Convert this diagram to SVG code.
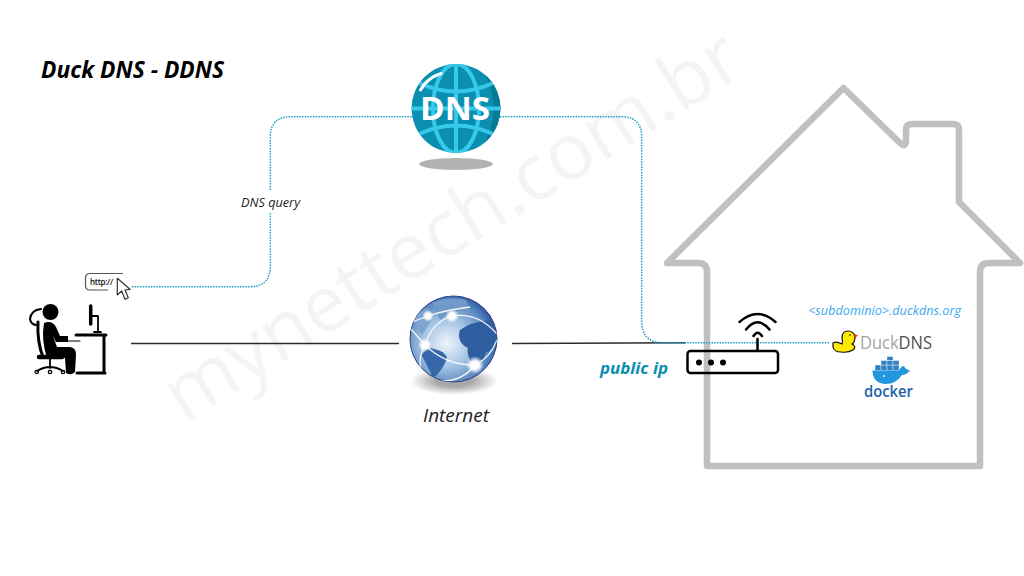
<svg xmlns="http://www.w3.org/2000/svg" width="1024" height="576" viewBox="0 0 1024 576">
<style>
text{font-family:"Open Sans","Liberation Sans",sans-serif}
.i{font-style:italic}
.wire{fill:none;stroke:#2b2b2b;stroke-width:1.6}
.dot{fill:none;stroke:#1fa3c6;stroke-width:1.5;stroke-dasharray:1.5 1.2}
.k{fill:none;stroke:#000;stroke-linecap:round;stroke-linejoin:round}
.grid{fill:none;stroke:#36c9ec;stroke-width:4}
.box{fill:#2f83c4;stroke:#fff;stroke-width:.4}
</style>
<defs>
<radialGradient id="g" cx=".42" cy=".55" r=".62"><stop offset="0" stop-color="#eef5fb"/><stop offset=".45" stop-color="#a5c4e4"/><stop offset=".85" stop-color="#4a7cb8"/><stop offset="1" stop-color="#2b3f86"/></radialGradient>
<radialGradient id="sh"><stop offset=".4" stop-color="#a8a8a8"/><stop offset="1" stop-color="#fff"/></radialGradient>
<radialGradient id="glow"><stop offset=".45" stop-color="#fff"/><stop offset="1" stop-color="#fff" stop-opacity="0"/></radialGradient>
<clipPath id="c1"><circle cx="456" cy="108.5" r="44.5"/></clipPath>
<clipPath id="c2"><ellipse cx="453.5" cy="339" rx="43.5" ry="43"/></clipPath>
</defs>
<rect width="1024" height="576" fill="#fff"/>
<text id="watermark" x="184" y="424" transform="rotate(-32 184 424)" font-size="78" fill="#f4f4f4">mynettech.com.br</text>
<g id="house"><path d="M707 466V272Q707 263 698 263H667L843.500 88L900 143Q906 148 906 140V130Q906 124 912 124H953Q959 124 959 130V202L1020 263H989Q980 263 980 272V466Z" fill="none" stroke="#c0c0c0" stroke-width="6.500" stroke-linejoin="round"/></g>
<g id="connectors">
<path class="wire" d="M131 343.500H399"/>
<path class="wire" d="M512 343.500L686 342.700"/>
<path class="dot" d="M132 286.700H250Q270.300 286.700 270.300 266V213"/>
<path class="dot" d="M270.300 190V137Q270.300 116.700 291 116.700H412"/>
<path class="dot" d="M500 116.700H621Q641.700 116.700 641.700 137V321Q641.700 342.700 663 342.700H830"/>
</g>
<g id="title"><text class="i" x="41" y="78" font-size="23" font-weight="700" textLength="183" lengthAdjust="spacingAndGlyphs">Duck DNS - DDNS</text></g>
<g id="label-dns-query"><text class="i" x="241" y="207" font-size="12.500" fill="#222" textLength="59" lengthAdjust="spacingAndGlyphs">DNS query</text></g>
<g id="http-cursor">
<path d="M123 273.500H90Q85.500 273.500 85.500 278V285.500Q85.500 290 90 290H108" fill="none" stroke="#555" stroke-width="1.200"/>
<text x="90" y="285" font-size="8" font-weight="600" fill="#111" textLength="23">http://</text>
<path d="M117.300 278.300V295L121.700 291L125 299.300L128.300 297.700L125 290L130 289.300Z" fill="#fff" stroke="#333" stroke-width="1.200" stroke-linejoin="round"/>
</g>
<g id="user">
<circle cx="50.500" cy="312" r="8"/>
<path class="k" stroke-width="2" d="M41 309Q31 310 30 319Q31 325 37 325"/>
<path class="k" stroke-width="3" d="M38 322Q37 342 43 357"/>
<path d="M44 323Q52 320 56 327L60 336H68V342H56L53 336L57 347H70Q76 348 76 354L75 372Q71 376 66 373L65 358H47Q41 340 44 323Z"/>
<path class="k" stroke-width="4.500" d="M39 357H62"/>
<path class="k" stroke-width="1.800" d="M50 359V368M37 371Q50 363 63 371"/>
<g fill="none" stroke="#000" stroke-width="1.300"><circle cx="36.700" cy="372" r="1.700"/><circle cx="50" cy="372" r="1.700"/><circle cx="63" cy="372" r="1.700"/></g>
<path class="k" stroke-width="3" d="M76 335H106M104 335V372M77 373H105"/>
<path class="k" stroke-width="1.200" d="M68 341H80"/>
<path class="k" stroke-width="3.500" d="M90.700 306V324"/>
<path class="k" stroke-width="1.800" d="M91 316H98V331M94 332H101"/>
</g>
<g id="dns">
<ellipse cx="456" cy="164" rx="37" ry="6" fill="#b2b2b2"/>
<circle cx="456" cy="108.500" r="44.500" fill="#0b8fb1"/>
<g clip-path="url(#c1)">
<path d="M480 66A44.500 44.500 0 0 1 480 151Q507 108 480 66Z" fill="#067b98"/>
<path d="M456 64V153M411 108.500H501" class="grid" stroke-width="5"/>
<ellipse class="grid" cx="456" cy="108.500" rx="23" ry="44.500"/>
<path class="grid" d="M419 83Q456 100 493 83M419 134Q456 117 493 134"/>
</g>
<path d="M420.500 90Q427 78 441 73.500" fill="none" stroke="#fff" stroke-width="3" stroke-linecap="round"/>
<text x="420" y="119.500" font-size="32" font-weight="700" fill="#fff" textLength="70" lengthAdjust="spacingAndGlyphs">DNS</text>
</g>
<g id="internet">
<ellipse cx="454" cy="381" rx="44" ry="14" fill="url(#sh)"/>
<ellipse cx="453.500" cy="339" rx="43.500" ry="43" fill="url(#g)" stroke="#2c3f86" stroke-width="1"/>
<g clip-path="url(#c2)">
<path d="M460 330Q470 322 490 320L498 340Q492 352 486 352Q480 372 472 365Q466 352 468 348Q456 342 460 330Z" fill="#2f5f9f"/>
<path d="M428 348Q445 350 447 358Q442 372 433 378Q426 362 421 355Z" fill="#3768a8"/>
<path d="M432 303Q450 296 466 300L470 311L452 312L440 320Z" fill="#6f9ac9"/>
<path d="M413 320Q420 310 428 308L433 318L422 335Z" fill="#7ea6d0"/>
<g fill="none" stroke="#fff" stroke-width="1.300" opacity=".9">
<path d="M425 345Q432 322 452 316Q478 312 497 334"/>
<path d="M428 316Q445 310 470 307"/>
<path d="M411 329L425 345Q445 365 475 365"/>
<path d="M425 345Q410 375 440 381Q462 382 475 365"/>
<path d="M428 316L412 322M475 365Q490 358 497 340"/>
</g>
</g>
<circle cx="428" cy="316" r="6" fill="url(#glow)"/><circle cx="452" cy="316" r="7" fill="url(#glow)"/><circle cx="425" cy="345" r="7" fill="url(#glow)"/><circle cx="475" cy="365" r="9" fill="url(#glow)"/>
<text class="i" x="423" y="422" font-size="18" fill="#222" textLength="66" lengthAdjust="spacingAndGlyphs">Internet</text>
</g>
<g id="router">
<rect x="687.500" y="351" width="90.500" height="22" rx="3" fill="none" stroke="#000" stroke-width="2.500"/>
<circle cx="699" cy="362.500" r="3"/><circle cx="711" cy="362.500" r="3"/><circle cx="723" cy="362.500" r="3"/>
<path class="k" stroke-width="2.500" d="M757.500 339V351M739.500 322Q757.500 306 775.500 322M746 329.500Q757.500 315 769.500 329.500M753.500 336Q757.500 329.500 762 336"/>
<text class="i" x="600" y="374" font-size="16" font-weight="700" fill="#0b8db0" textLength="68" lengthAdjust="spacingAndGlyphs">public ip</text>
</g>
<g id="duckdns">
<text class="i" x="808" y="315" font-size="12" fill="#3aa9f1" textLength="153" lengthAdjust="spacingAndGlyphs">&lt;subdominio&gt;.duckdns.org</text>
<path d="M833 343Q836 341 842 344Q843 341 842 338Q842 331 848 331Q854 331 855 337Q855 342 852 344Q857 347 853 350Q848 353 841 352Q834 352 833 347Z" fill="#ffec00" stroke="#111" stroke-width="1.200"/>
<path d="M854.500 334.500L858 335L855 338.500Z" fill="#d32"/>
<circle cx="850" cy="335" r=".8"/>
<text x="860" y="349" font-size="18" fill="#a3a3a3" textLength="72" lengthAdjust="spacingAndGlyphs">Duck<tspan fill="#4c4c4c">DNS</tspan></text>
</g>
<g id="docker">
<g>
<rect class="box" x="875" y="365" width="6" height="5.500"/><rect class="box" x="881" y="365" width="6" height="5.500"/><rect class="box" x="887" y="365" width="6" height="5.500"/><rect class="box" x="893" y="365" width="6" height="5.500"/>
<rect class="box" x="881" y="360.500" width="6" height="4.500"/><rect class="box" x="887" y="360.500" width="6" height="4.500"/><rect class="box" x="893" y="360.500" width="6" height="4.500"/>
<rect class="box" x="887" y="356.500" width="6" height="4"/>
</g>
<path d="M872.500 370.500H899Q901 366 904 366Q905 369 910 370.500Q906 375 902 375Q896 384.500 884 384Q872.500 382 872.500 370.500Z" fill="#2396e0"/>
<circle cx="884" cy="376" r=".9" fill="#fff"/>
<text x="864" y="397" font-size="17" font-weight="600" fill="#1d64a6" textLength="49" lengthAdjust="spacingAndGlyphs">docker</text>
</g>
</svg>
